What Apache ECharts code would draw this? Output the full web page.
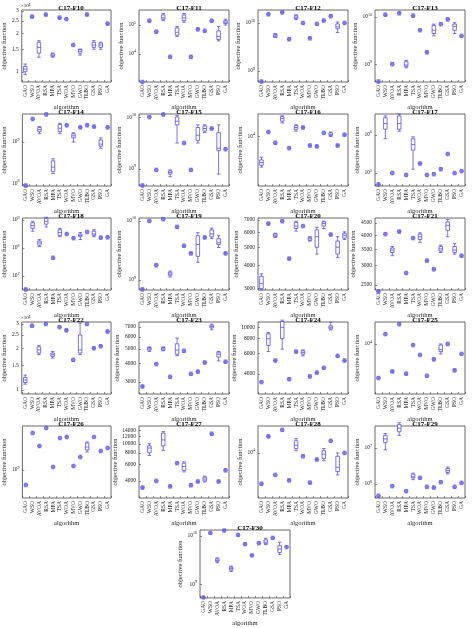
<!DOCTYPE html>
<html><head><meta charset="utf-8">
<script src="https://cdn.jsdelivr.net/npm/echarts@6/dist/echarts.min.js"></script>
<style>html,body{margin:0;padding:0;background:#fff}#c{width:474px;height:628px}</style>
</head><body><div id="c"></div>
<script>
const categories = ['GAO','WSO','AVOA','RSA','MPA','TSA','WOA','MVO','GWO','TLBO','GSA','PSO','GA'];
const panelTitles = ['C17-F10','C17-F11','C17-F12','C17-F13','C17-F14','C17-F15','C17-F16','C17-F17','C17-F18','C17-F19','C17-F20','C17-F21','C17-F22','C17-F23','C17-F24','C17-F25','C17-F26','C17-F27','C17-F28','C17-F29','C17-F30'];
// 'exp' panels: values are log10 of objective; 'real' panels: actual objective values. Single number = tight box.
const F10 = [[9500,10000,10500,11000,11500],27000,[13000,14000,15500,17000,17500],28000,[13000,13200,13500,13800,14000],26500,25800,16200,[13500,14000,14500,15000,15000],28000,[15000,15500,16200,17000,17500],[15000,15500,16200,16800,17000],23800];
const F11 = [3.03,5.15,4.77,[5.15,5.2,5.25,5.35,5.4],3.9,[4.6,4.65,4.75,4.9,4.95],[5.1,5.15,5.25,5.35,5.4],3.9,4.85,4.8,5.15,[4.45,4.5,4.6,4.8,4.95],[5.0,5.05,5.1,5.15,5.2]];
const F12 = [8.78,10.18,[9.7,9.71,9.73,9.76,9.78],10.22,9.66,[10.07,10.09,10.12,10.15,10.17],10.0,9.68,9.98,10.05,10.14,[9.8,9.88,9.92,9.98,10.02],10.0];
const F13 = [8.63,10.05,9.0,10.08,[8.92,8.95,8.98,9.05,9.08],10.03,9.72,9.25,[9.6,9.65,9.72,9.82,9.85],9.85,9.95,[9.65,9.72,9.8,9.85,9.88],9.6];
const F14 = [7.96,9.55,[9.2,9.25,9.3,9.35,9.37],9.66,[8.25,8.3,8.4,8.55,8.6],[9.2,9.25,9.33,9.42,9.45],9.4,[9.0,9.1,9.15,9.2,9.22],9.35,9.4,9.37,[8.85,8.9,8.95,9.05,9.1],9.35];
const F15 = [8.68,10.0,8.98,10.05,[8.85,8.9,8.93,8.96,8.98],[9.5,9.85,9.92,10.0,10.03],9.5,8.98,[9.5,9.55,9.65,9.8,9.85],[9.7,9.73,9.78,9.83,9.85],9.78,[8.9,9.35,9.4,9.7,9.85],9.38];
const F16 = [[3.66,3.68,3.71,3.74,3.77],4.05,3.93,[4.15,4.17,4.2,4.22,4.23],3.87,[4.06,4.08,4.1,4.12,4.13],4.1,3.9,3.89,4.04,[4.0,4.01,4.02,4.04,4.05],3.9,4.02];
const F17 = [4.7,[5.9,6.15,6.3,6.45,6.5],5.0,[6.1,6.15,6.3,6.5,6.55],4.95,[5.1,5.6,5.75,5.9,5.95],5.25,4.95,4.97,5.1,5.5,5.0,5.05];
const F18 = [6.52,[8.6,8.7,8.8,8.9,8.95],[8.05,8.1,8.18,8.25,8.3],[8.75,8.85,8.95,9.05,9.1],7.65,[8.4,8.45,8.55,8.65,8.7],8.5,8.35,[8.3,8.4,8.45,8.5,8.55],8.57,[8.4,8.45,8.5,8.6,8.65],8.37,8.38];
const F19 = [8.84,10.0,9.25,10.03,[9.05,9.08,9.1,9.13,9.15],9.9,9.58,9.45,[9.3,9.4,9.6,9.75,9.8],9.72,[9.7,9.73,9.78,9.85,9.88],[9.55,9.6,9.63,9.7,9.75],9.45];
const F20 = [[2950,3000,3200,3500,3600],6700,[5650,5700,5800,5900,5950],6900,4350,[6100,6300,6500,6800,6900],6500,[5400,5450,5550,5650,5700],[4600,5000,5700,6200,6400],[6300,6500,6700,6850,6900],5850,[4400,4600,5000,5400,5700],[5500,5600,5800,5950,6050]];
const F21 = [2350,4050,[3300,3400,3480,3550,3600],4150,2800,3900,[3750,3850,3950,4050,4100],3150,2900,[3400,3450,3520,3600,3650],[3950,4200,4400,4550,4650],[3350,3400,3480,3600,3700],3300];
const F22 = [[11000,11300,11800,12300,12800],29200,[18000,18500,19500,20500,21000],30000,[17000,17500,18000,18500,19000],28500,27000,16500,[18000,18500,19500,25000,30500],30000,20000,20700,26500];
const F23 = [2800,[4800,4900,5000,5100,5150],3950,[4850,4900,5000,5100,5150],3250,[4500,4600,4900,5400,5900],4850,3400,3520,4050,[6700,6900,7050,7200,7300],[4150,4400,4600,4750,4800],4100];
const F24 = [3400,[6200,7000,8000,8800,9000],5200,[6500,8000,10000,11200,11500],3600,6200,[5700,5900,6100,6300,6400],3800,4100,4500,[9500,9700,10000,10300,11000],5700,5200];
const F25 = [3.69,4.09,3.75,4.18,3.73,3.99,3.9,3.71,3.86,[3.91,3.93,3.95,3.99,4.0],4.0,3.76,3.91];
const F26 = [8.85,9.37,9.24,9.42,9.03,9.32,9.33,9.04,9.13,[9.18,9.2,9.23,9.27,9.28],9.33,9.19,9.22];
const F27 = [3400,[7500,8000,9000,9500,10000],4000,[8500,9500,11000,13000,13500],3500,6200,[5000,5200,5700,6200,6400],3600,3950,[3900,4000,4200,4400,4500],12800,3950,5200];
const F28 = [3.72,4.15,3.8,4.21,3.75,[4.02,4.04,4.07,4.11,4.13],3.97,3.73,3.94,[3.93,3.95,3.99,4.02,4.04],4.11,[3.8,3.83,3.87,3.97,4.0],4.0];
const F29 = [5.67,[6.95,7.15,7.25,7.35,7.4],5.94,[7.35,7.45,7.55,7.65,7.7],5.8,[6.12,6.17,6.2,6.27,6.3],6.17,5.92,5.9,6.05,[6.28,6.32,6.37,6.43,6.47],5.92,6.03];
const F30 = [8.74,10.06,[9.45,9.48,9.5,9.53,9.55],10.11,[9.27,9.3,9.33,9.36,9.38],10.02,9.83,9.6,9.85,[9.82,9.84,9.87,9.92,9.95],9.96,[9.62,9.66,9.73,9.8,9.87],9.77];
const panelData = [F10,F11,F12,F13,F14,F15,F16,F17,F18,F19,F20,F21,F22,F23,F24,F25,F26,F27,F28,F29,F30];
// axis: kind, range (log10 domain), tick labels
const panelKind = ['real','exp','exp','exp','exp','exp','exp','exp','exp','exp','real','real','real','real','real','exp','exp','real','exp','exp','exp'];
const yMin = [3.92,3.03,8.77,8.62,7.95,8.67,3.45,4.66,6.5,8.83,3.47,3.377,3.97,3.397,3.43,3.545,8.72,3.42,3.59,5.61,8.73];
const yMax = [4.483,5.52,10.27,10.15,9.67,10.06,4.25,6.55,9.07,10.05,3.856,3.674,4.492,3.878,4.045,4.2,9.44,4.19,4.245,7.61,10.12];
const tickLabels = [[1,1.5,2,2.5,3],[4,5],[9,10],[9,10],[8,9],[9,10],[4],[5,6],[7,8,9],[9,10],[3000,4000,5000,6000,7000],[2500,3000,3500,4000,4500],[1,1.5,2,2.5,3],[3000,4000,5000,6000,7000],[4000,6000,8000,10000,12000],[4],[9],[4000,6000,8000,10000,12000,14000],[4],[6,7],[9,10]];
const scaleLabel = [1e4,1,1,1,1,1,1,1,1,1,1,1,1e4,1,1,1,1,1,1,1,1];

const chart = echarts.init(document.getElementById('c'), null, {renderer:'canvas'});
const font = 'Liberation Serif';
const lefts = [21,139,258,375];
const grids=[], xAxes=[], yAxes=[], series=[], titles=[], graphics=[];
panelData.forEach((arr, i) => {
  const row = Math.floor(i/4), col = i%4;
  const left = i===20 ? 200 : lefts[col];
  const top = 10 + row*104;
  const kind = panelKind[i];
  grids.push({left:left, top:top, width:90, height:72, show:true, borderColor:'#444', borderWidth:0.8, backgroundColor:'#fff'});
  titles.push({text:panelTitles[i], left:left+45, top:top-10, textAlign:'center',
    textStyle:{fontFamily:font, fontSize:7, fontWeight:'bold', color:'#000'}});
  const toLog = v => kind==='real' ? Math.log10(v) : v;
  const data = arr.map(b => {
    if (Array.isArray(b)) return b.map(toLog);
    const m = toLog(b), s = (yMax[i]-yMin[i])*0.012;
    return [m-2*s, m-s, m, m+s, m+2*s];
  });
  const ticks = tickLabels[i].map(t => kind==='real' ? Math.log10(t*scaleLabel[i]) : t);
  xAxes.push({type:'category', gridIndex:i, data:categories,
    axisLine:{show:false}, axisTick:{show:true, inside:true, length:2, lineStyle:{color:'#444',width:0.6}},
    axisLabel:{rotate:90, fontSize:5.5, fontFamily:font, color:'#222', interval:0, margin:3},
    name:'algorithm', nameLocation:'middle', nameGap:20, nameTextStyle:{fontFamily:font, fontSize:6.5, color:'#222'}});
  yAxes.push({type:'value', gridIndex:i, min:yMin[i], max:yMax[i],
    axisLine:{show:false}, splitLine:{show:false},
    axisTick:{show:true, inside:true, length:2, customValues:ticks, lineStyle:{color:'#444',width:0.6}},
    axisLabel:{fontSize:5.5, fontFamily:font, color:'#222', margin:3, customValues:ticks,
      formatter: v => {
        if (kind==='exp') return '10{s|' + Math.round(v) + '}';
        const r = Math.pow(10, v)/scaleLabel[i];
        return String(Math.round(r*10)/10);
      },
      rich:{s:{fontSize:4, fontFamily:font, color:'#222', padding:[0,0,5,0]}}},
    name:'objective function', nameLocation:'middle', nameGap: kind==='exp' ? 12 : (scaleLabel[i]>1 ? 10 : 17),
    nameTextStyle:{fontFamily:font, fontSize:6.5, color:'#222'}});
  series.push({type:'boxplot', xAxisIndex:i, yAxisIndex:i, data:data, boxWidth:[3,6],
    itemStyle:{color:'#fff', borderColor:'#5a50e0', borderWidth:0.8}, silent:true});
  if (scaleLabel[i] > 1) {
    graphics.push({type:'text', left:left, top:top-7, style:{text:'×10⁴', fontSize:5, fontFamily:font, fill:'#222'}});
  }
});
chart.setOption({animation:false, title:titles, grid:grids, xAxis:xAxes, yAxis:yAxes, series:series, graphic:graphics});
</script></body></html>
